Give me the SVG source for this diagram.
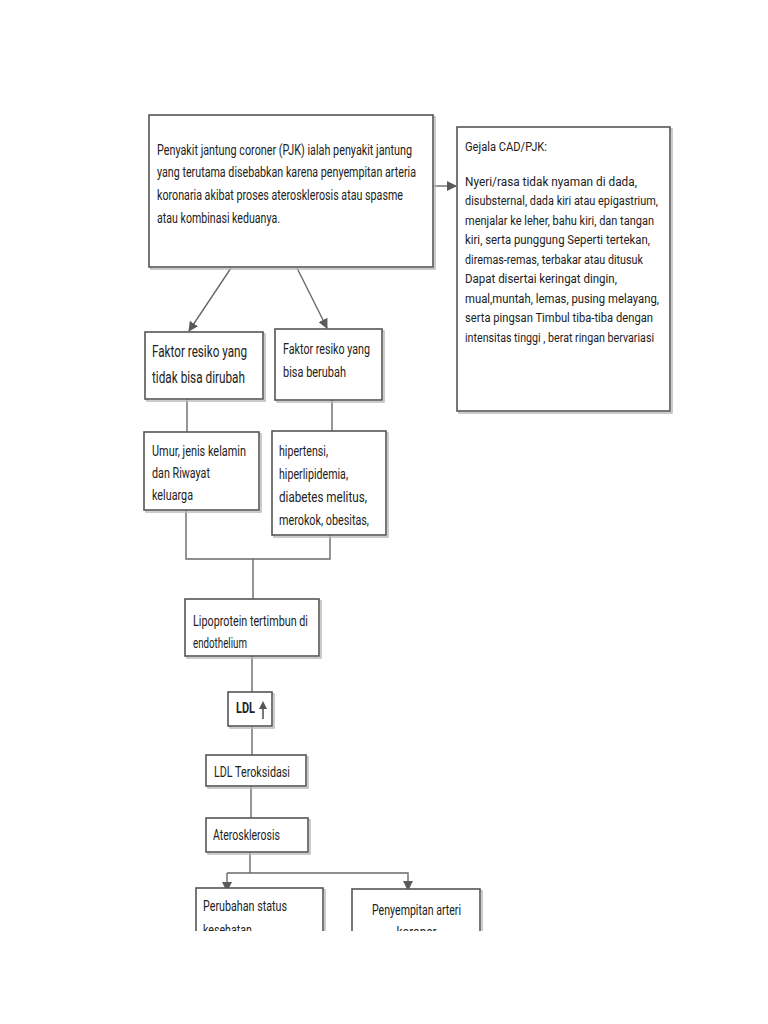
<svg xmlns="http://www.w3.org/2000/svg" width="768" height="1024" viewBox="0 0 768 1024">
<style>
.box{fill:#fff;stroke:#555;stroke-width:1.6}
.sh{fill:none;stroke:#bbb;stroke-width:1.5}
.ln{fill:none;stroke:#6a6a6a;stroke-width:1.4}
.t{font-family:Roboto,"Liberation Sans",sans-serif;fill:#222;font-size:15.5px}
.s{font-size:13px}
.m{font-size:15px}
.b{font-size:16px}
</style>
<defs>
<marker id="ah" viewBox="0 0 10 10" refX="9" refY="5" markerWidth="10" markerHeight="10" markerUnits="userSpaceOnUse" orient="auto">
<path d="M0,0 L10,5 L0,10 z" fill="#5a5a5a"/>
</marker>
<clipPath id="cp"><rect x="0" y="0" width="768" height="931"/></clipPath>
</defs>
<rect width="768" height="1024" fill="#fff"/>
<g clip-path="url(#cp)">
<g id="connectors">
<line class="ln" x1="433" y1="186" x2="456" y2="186" marker-end="url(#ah)"/>
<line class="ln" x1="231" y1="268" x2="189" y2="331" marker-end="url(#ah)"/>
<line class="ln" x1="297" y1="268" x2="327" y2="328" marker-end="url(#ah)"/>
<line class="ln" x1="187" y1="399" x2="187" y2="432"/>
<line class="ln" x1="332" y1="400" x2="332" y2="431"/>
<polyline class="ln" points="186,510 186,559 330,559 330,535"/>
<line class="ln" x1="253" y1="559" x2="253" y2="599"/>
<line class="ln" x1="252" y1="656" x2="252" y2="692"/>
<line class="ln" x1="252" y1="726" x2="252" y2="755"/>
<line class="ln" x1="251" y1="786" x2="251" y2="818"/>
<line class="ln" x1="250" y1="852" x2="250" y2="873"/>
<polyline class="ln" points="227,873 408,873 408,890" marker-end="url(#ah)"/>
<line class="ln" x1="227" y1="873" x2="227" y2="891" marker-end="url(#ah)"/>
</g>
<g id="n-pjk">
<rect class="sh" x="151" y="117" width="284" height="152"/>
<rect class="box" x="149" y="115" width="284" height="152"/>
<g transform="translate(157,0) scale(0.72,1)">
<text class="t" x="0" y="155" textLength="354.2" lengthAdjust="spacingAndGlyphs">Penyakit jantung coroner (PJK) ialah penyakit jantung</text>
<text class="t" x="0" y="177" textLength="359.7" lengthAdjust="spacingAndGlyphs">yang terutama disebabkan karena penyempitan arteria</text>
<text class="t" x="0" y="200" textLength="341.7" lengthAdjust="spacingAndGlyphs">koronaria akibat proses aterosklerosis atau spasme</text>
<text class="t" x="0" y="223" textLength="170.8" lengthAdjust="spacingAndGlyphs">atau kombinasi keduanya.</text>
</g>
</g>
<g id="n-gejala">
<rect class="sh" x="459" y="129" width="213" height="284"/>
<rect class="box" x="457" y="127" width="213" height="284"/>
<g transform="translate(465,0) scale(0.8,1)">
<text class="t s" x="0" y="151" textLength="102.5" lengthAdjust="spacingAndGlyphs">Gejala CAD/PJK:</text>
<text class="t s" x="0" y="186" textLength="215" lengthAdjust="spacingAndGlyphs">Nyeri/rasa tidak nyaman di dada,</text>
<text class="t s" x="0" y="205.5" textLength="241.25" lengthAdjust="spacingAndGlyphs">disubsternal, dada kiri atau epigastrium,</text>
<text class="t s" x="0" y="225" textLength="236.25" lengthAdjust="spacingAndGlyphs">menjalar ke leher, bahu kiri, dan tangan</text>
<text class="t s" x="0" y="244.5" textLength="231.25" lengthAdjust="spacingAndGlyphs">kiri, serta punggung Seperti tertekan,</text>
<text class="t s" x="0" y="264" textLength="222.5" lengthAdjust="spacingAndGlyphs">diremas-remas, terbakar atau ditusuk</text>
<text class="t s" x="0" y="283.5" textLength="190" lengthAdjust="spacingAndGlyphs">Dapat disertai keringat dingin,</text>
<text class="t s" x="0" y="303" textLength="242.5" lengthAdjust="spacingAndGlyphs">mual,muntah, lemas, pusing melayang,</text>
<text class="t s" x="0" y="322.5" textLength="235" lengthAdjust="spacingAndGlyphs">serta pingsan Timbul tiba-tiba dengan</text>
<text class="t s" x="0" y="342" textLength="236.25" lengthAdjust="spacingAndGlyphs">intensitas tinggi , berat ringan bervariasi</text>
</g>
</g>
<g id="n-faktor-tetap">
<rect class="sh" x="147" y="334" width="118" height="67"/>
<rect class="box" x="145" y="332" width="118" height="67"/>
<g transform="translate(152,0) scale(0.75,1)">
<text class="t b" x="0" y="357" textLength="126.7" lengthAdjust="spacingAndGlyphs">Faktor resiko yang</text>
<text class="t b" x="0" y="383" textLength="124" lengthAdjust="spacingAndGlyphs">tidak bisa dirubah</text>
</g>
</g>
<g id="n-faktor-ubah">
<rect class="sh" x="277" y="331" width="107" height="71"/>
<rect class="box" x="275" y="329" width="107" height="71"/>
<g transform="translate(283,0) scale(0.75,1)">
<text class="t m" x="0" y="354" textLength="116" lengthAdjust="spacingAndGlyphs">Faktor resiko yang</text>
<text class="t m" x="0" y="377" textLength="84" lengthAdjust="spacingAndGlyphs">bisa berubah</text>
</g>
</g>
<g id="n-umur">
<rect class="sh" x="146" y="434" width="115" height="78"/>
<rect class="box" x="144" y="432" width="115" height="78"/>
<g transform="translate(152,0) scale(0.75,1)">
<text class="t m" x="0" y="456" textLength="125.3" lengthAdjust="spacingAndGlyphs">Umur, jenis kelamin</text>
<text class="t m" x="0" y="478" textLength="77.3" lengthAdjust="spacingAndGlyphs">dan Riwayat</text>
<text class="t m" x="0" y="500" textLength="54.7" lengthAdjust="spacingAndGlyphs">keluarga</text>
</g>
</g>
<g id="n-hipertensi">
<rect class="sh" x="274" y="433" width="114" height="104"/>
<rect class="box" x="272" y="431" width="114" height="104"/>
<g transform="translate(279,0) scale(0.75,1)">
<text class="t m" x="0" y="456" textLength="65.3" lengthAdjust="spacingAndGlyphs">hipertensi,</text>
<text class="t m" x="0" y="479" textLength="92" lengthAdjust="spacingAndGlyphs">hiperlipidemia,</text>
<text class="t m" x="0" y="502" textLength="117.3" lengthAdjust="spacingAndGlyphs">diabetes melitus,</text>
<text class="t m" x="0" y="525" textLength="120" lengthAdjust="spacingAndGlyphs">merokok, obesitas,</text>
</g>
</g>
<g id="n-lipoprotein">
<rect class="sh" x="187" y="601" width="134" height="57"/>
<rect class="box" x="185" y="599" width="134" height="57"/>
<g transform="translate(193,0) scale(0.75,1)">
<text class="t m" x="0" y="626" textLength="153.3" lengthAdjust="spacingAndGlyphs">Lipoprotein tertimbun di</text>
<text class="t m" x="0" y="648" textLength="72" lengthAdjust="spacingAndGlyphs">endothelium</text>
</g>
</g>
<g id="n-ldl">
<rect class="sh" x="230" y="694" width="44" height="34"/>
<rect class="box" x="228" y="692" width="44" height="34"/>
<g transform="translate(236,0) scale(0.75,1)">
<text class="t m" x="0" y="713" textLength="25.3" lengthAdjust="spacingAndGlyphs" font-weight="bold">LDL</text>
</g>
<line x1="263" y1="719" x2="263" y2="708" stroke="#555" stroke-width="1.6"/>
<path d="M259,709 L263,701 L267,709 z" fill="#555"/>
</g>
<g id="n-ldl-oks">
<rect class="sh" x="208" y="757" width="100" height="31"/>
<rect class="box" x="206" y="755" width="100" height="31"/>
<g transform="translate(214,0) scale(0.75,1)">
<text class="t m" x="0" y="777" textLength="101.3" lengthAdjust="spacingAndGlyphs">LDL Teroksidasi</text>
</g>
</g>
<g id="n-aterosklerosis">
<rect class="sh" x="208" y="820" width="102" height="34"/>
<rect class="box" x="206" y="818" width="102" height="34"/>
<g transform="translate(213,0) scale(0.75,1)">
<text class="t m" x="0" y="840" textLength="89.3" lengthAdjust="spacingAndGlyphs">Aterosklerosis</text>
</g>
</g>
<g id="n-perubahan">
<rect class="sh" x="198" y="890" width="127" height="80"/>
<rect class="box" x="196" y="888" width="127" height="80"/>
<g transform="translate(203,0) scale(0.75,1)">
<text class="t m" x="0" y="911" textLength="112" lengthAdjust="spacingAndGlyphs">Perubahan status</text>
<text class="t m" x="0" y="935" textLength="65.3" lengthAdjust="spacingAndGlyphs">kesehatan</text>
</g>
</g>
<g id="n-penyempitan">
<rect class="sh" x="354" y="891" width="128" height="80"/>
<rect class="box" x="352" y="889" width="128" height="80"/>
<g transform="translate(416.5,0) scale(0.75,1)">
<text class="t m" x="0" y="915" text-anchor="middle" textLength="118.7" lengthAdjust="spacingAndGlyphs">Penyempitan arteri</text>
<text class="t m" x="0" y="937" text-anchor="middle" textLength="53.3" lengthAdjust="spacingAndGlyphs">koroner</text>
</g>
</g>
</g>
</svg>
